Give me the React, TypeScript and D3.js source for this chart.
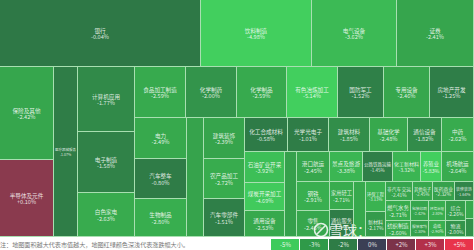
import React from 'react';
import * as d3 from 'd3';

const W = 474;
const H = 250;
const TH = 237;

// sector names, daily change (%), market-cap weight (relative)
const sectors = [
  '银行', '饮料制造', '电气设备', '证券',
  '保险及其他', '半导体及元件', '医疗器械服务', '计算机应用', '电子制造', '白色家电',
  '食品加工制造', '化学制药', '化学制品', '有色冶炼加工', '国防军工', '专用设备', '房地产开发',
  '电力', '汽车整车', '生物制品', '计算机设备', '建筑装饰', '农产品加工', '汽车零部件',
  '化工合成材料', '光学光电子', '建筑材料', '基础化学', '通信设备', '中药',
  '石油矿业开采', '煤炭开采加工', '通用设备', '传媒', '港口航运', '钢铁', '零售',
  '景点及旅游', '公路铁路运输', '化工新材料', '养殖业', '机场航运',
  '家用轻工', '通信服务', '仪器仪表', '环保工程', '新材料',
  '非汽车交运', '其他电子', '医药商业', '装修装饰',
  '燃气水务', '包装印刷', '环境治理', '综合',
  '纺织制造', '服装家纺', '造纸', '物流', '公交', '石油加工贸易',
];
const changes = [
  -0.04, -4.98, -3.62, -2.41,
  -2.42, 0.10, -1.07, -1.77, -1.58, -2.63,
  -2.59, -2.00, -2.59, -5.14, -1.52, -2.46, -1.25,
  -2.49, -0.80, -2.80, -2.35, -2.39, -2.72, -1.51,
  -0.58, -1.01, -1.85, -2.48, -1.82, -2.62,
  -3.92, -4.69, -2.53, -2.30, -2.45, -2.91, -2.46,
  -3.38, -1.45, -3.32, -5.83, -2.64,
  -2.71, -1.04, -2.50, -3.13, -2.17,
  -2.41, -2.45, -2.32, -1.64,
  -2.71, -2.42, -2.80, -2.26,
  -2.60, -2.30, -2.90, -2.00, -2.50, -1.90,
];
const caps = [
  13467, 7437, 5695, 5159,
  5022, 4158, 4080, 3705, 3477, 2508,
  2601, 2601, 2550, 2601, 2346, 2346, 2244,
  2132, 2080, 1976, 2023, 1681, 1640, 1558,
  1462, 1394, 1394, 1292, 1156, 1088,
  1240, 1120, 1040, 1020, 990, 957, 858,
  990, 900, 840, 630, 960,
  672, 648, 660, 600, 500,
  513, 380, 418, 361,
  500, 360, 340, 400,
  400, 288, 272, 320, 144, 144,
];

// grouping of sectors: 'h' = side by side, 'v' = stacked
const layoutTree: any = ['v',
  ['h', 0, 1, 2, 3],
  ['h',
    ['v', 4, 5],
    6,
    ['v', 7, 8, 9],
    ['v',
      ['h', 10, 11, 12, 13, 14, 15, 16],
      ['h',
        ['v', 17, 18, 19],
        20,
        ['v', 21, 22, 23],
        ['v',
          ['h', 24, 25, 26, 27, 28, 29],
          ['h',
            ['h', ['v', 30, 31, 32], 33, ['v', 34, 35, 36]],
            ['v',
              ['h', 37, 38, 39, 40, 41],
              ['h',
                ['v', 42, 43], 44, ['v', 45, 46],
                ['v',
                  ['h', 47, 48, 49, 50],
                  ['h', ['v', 51, 55], ['v', 52, 56], ['v', 53, 57], ['v', 54, 58], ['v', 59, 60]],
                ],
              ],
            ],
          ],
        ],
      ],
    ],
  ],
];

const legendLabels = ['-5%', '-3%', '-2%', '0%', '+2%', '+3%', '+5%'];
const legendColors = ['#3ecb5c', '#2f9a49', '#2e7c46', '#3b3f55', '#7c3349', '#b3304a', '#e8344b'];

const note = '注：地图面积越大代表市值越大，地图红绿颜色深浅代表涨跌幅大小。';

const negScale = d3.scaleLinear<string>()
  .domain([-5, -2.5, -1.5, 0])
  .range(['#42cf5e', '#37a94d', '#2f7f48', '#2e7846'])
  .clamp(true);
const posScale = d3.scaleLinear<string>()
  .domain([0, 2, 3, 5])
  .range(['#8a3a4e', '#8a3550', '#b53048', '#e8324a'])
  .clamp(true);
const colorOf = (v: number) => (v > 0 ? posScale(v) : negScale(v));

const fmt = (v: number) => (v > 0 ? '+' : '') + v.toFixed(2) + '%';

const FONT = '"Noto Sans CJK SC", "Noto Sans", sans-serif';

export default function App() {
  const root = d3.hierarchy<any>(layoutTree, (d: any) => (Array.isArray(d) ? d.slice(1) : null))
    .sum((d: any) => (Array.isArray(d) ? 0 : caps[d]));

  const tile = (node: any, x0: number, y0: number, x1: number, y1: number) => {
    if (node.data[0] === 'h') d3.treemapDice(node, x0, y0, x1, y1);
    else d3.treemapSlice(node, x0, y0, x1, y1);
  };

  d3.treemap<any>().size([W, TH]).tile(tile as any).round(true)(root);
  const leaves = root.leaves() as any[];

  const legendX = d3.scaleBand<string>().domain(legendLabels).range([271, W]);

  return (
    <>
      <style>{'body{margin:0;background:#fff}'}</style>
      <svg width={W} height={H} style={{ display: 'block' }} fontFamily={FONT}>
        <rect x={0} y={0} width={W} height={TH} fill="#a8dfb1" />
        {leaves.map((lf) => {
          const i = lf.data as number;
          const x = lf.x0, y = lf.y0;
          const w = lf.x1 - lf.x0, h = lf.y1 - lf.y0;
          const name = sectors[i];
          const fs = Math.min(5.6, (w - 3) / Math.max(name.length, 3.4), (h - 2) / 2.6);
          const cx = x + w / 2, cy = y + h / 2;
          return (
            <g key={i}>
              <rect x={x} y={y} width={Math.max(0, w - 1)} height={Math.max(0, h - 1)} fill={colorOf(changes[i])} />
              {fs >= 3.4 && (
                <g fill="#ffffff" fillOpacity={0.85} fontSize={fs} textAnchor="middle">
                  <text x={cx - 0.5} y={cy - fs * 0.15}>{name}</text>
                  <text x={cx - 0.5} y={cy + fs * 1.05}>{fmt(changes[i])}</text>
                </g>
              )}
            </g>
          );
        })}
        {/* watermark */}
        <g opacity={0.85}>
          <circle cx={321} cy={230} r={6.5} fill="none" stroke="#fff" strokeWidth={1.6} />
          <path d="M317,234 L325,226" stroke="#fff" strokeWidth={1.6} />
          <text x={329} y={236} fontSize={14} fill="#fff">雪球：</text>
        </g>
        <text x={0} y={247} fontSize={6.1} fill="#777">{note}</text>
        {legendLabels.map((l, k) => (
          <g key={l}>
            <rect x={legendX(l)!} y={239} width={legendX.bandwidth() - 1} height={11} fill={legendColors[k]} />
            <text x={legendX(l)! + legendX.bandwidth() / 2} y={247} fontSize={6} fill="#fff" fillOpacity={0.9} textAnchor="middle">{l}</text>
          </g>
        ))}
      </svg>
    </>
  );
}
